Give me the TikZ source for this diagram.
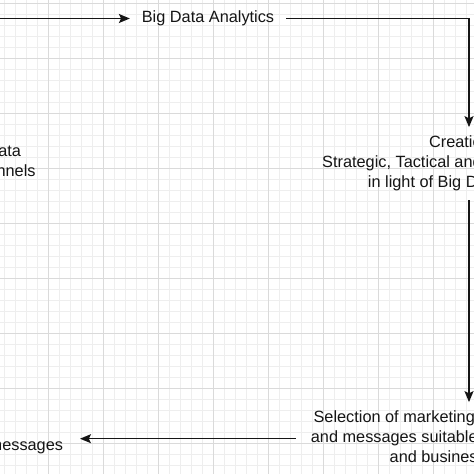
\documentclass[tikz,border=0pt]{standalone}
\usepackage{fontspec}
\setmainfont{Liberation Sans}
\usepackage{xcolor}
\usepackage{tikz}
\usetikzlibrary{arrows.meta}
\usetikzlibrary{calc, positioning}
\definecolor{ink}{HTML}{151515}
\definecolor{minorgrid}{HTML}{EEEEEE}
\definecolor{majorgrid}{HTML}{DADADA}
\tikzstyle{lbl}=[align=center, text=ink, inner xsep=12pt, inner ysep=9pt, outer sep=0pt]
\tikzstyle{flow}=[->, draw=ink, line width=1.4pt]

\begin{document}
\begin{tikzpicture}[x=1pt, y=-1pt]
\tikzset{>={Stealth[length=11pt, width=9pt, inset=2.2pt]}}

\tikzset{every node/.style={font=\fontsize{16.3pt}{20pt}\selectfont}}


% visible window
\clip (0,0) rectangle (474,474);
\fill[white] (0,0) rectangle (474,474);

% grid
\begin{scope}[shift={(48,3)}]
\draw[minorgrid, line width=0.6pt, step=11pt] (-55,-55) grid (440,480);
\draw[majorgrid, line width=0.8pt, step=55pt] (-55,-55) grid (440,480);
\end{scope}

% nodes
\node[lbl] (analytics) at (208,18.5) {Big Data Analytics};
\node[lbl] (plans) at (469,163.7) {Creation of\\Strategic, Tactical and Operational Plans\\in light of Big Data Analytics};
\node[lbl, inner xsep=15pt] (select) at (469,438.7) {Selection of marketing strategies, channels\\and messages suitable for target customers\\and business strategy};
\node[lbl] (collect) at (-57.3,162.7) {Collection of Big Data\\through multiple channels};
\node[lbl, inner xsep=17pt, anchor=base east] (msgs) at (80,450) {messages};

% arrows
\draw[flow] (collect) |- (analytics);
\draw[flow] (analytics) -| (plans);
\draw[flow] (plans) -- (select);
\draw[flow] (select.west) -- (select.west -| msgs.east);

\end{tikzpicture}
\end{document}
